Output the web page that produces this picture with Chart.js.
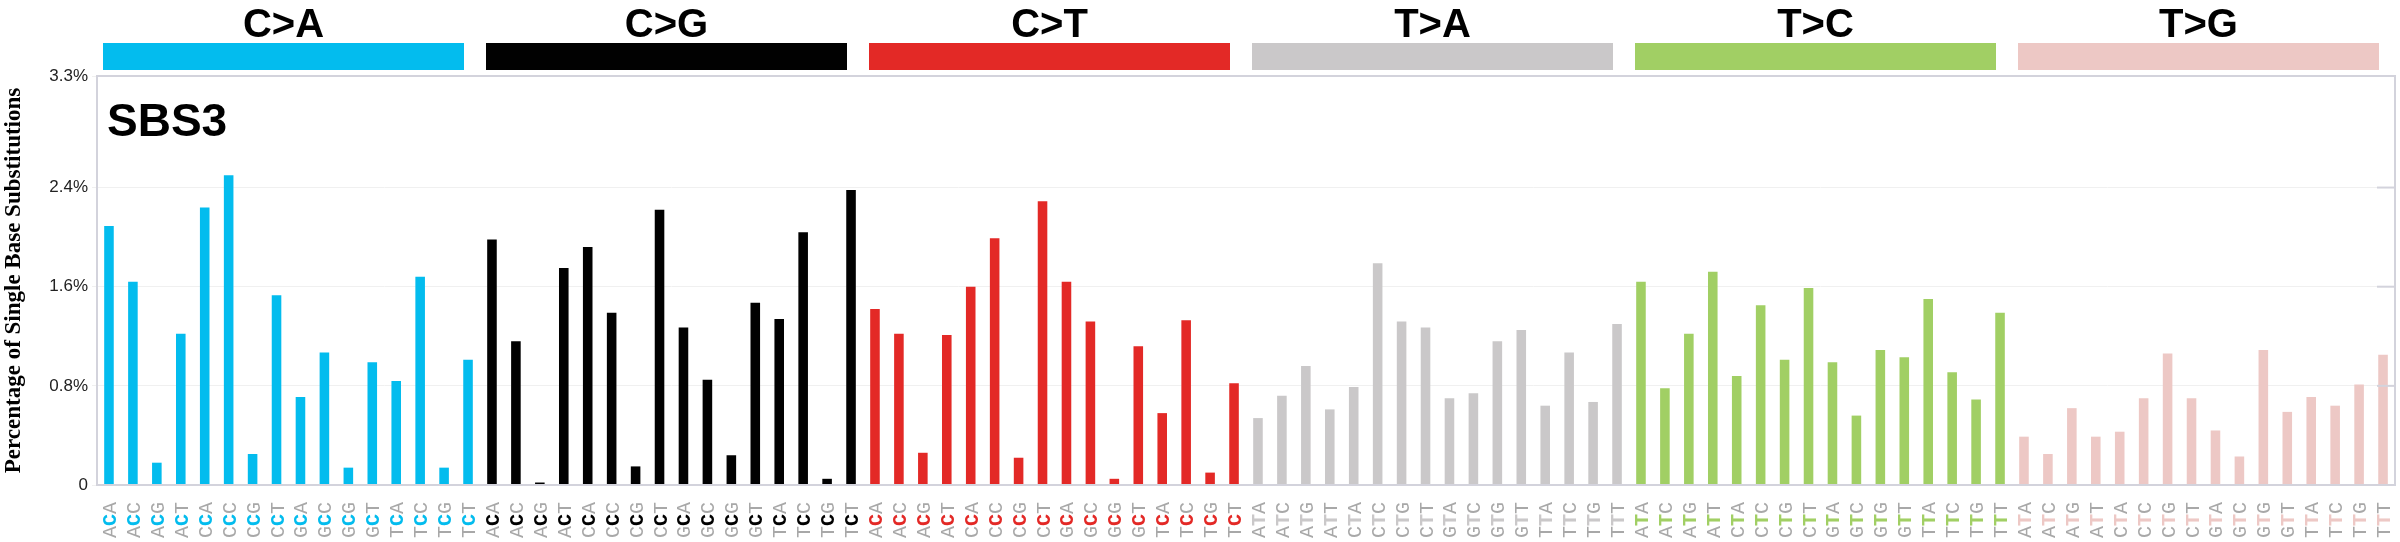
<!DOCTYPE html>
<html>
<head>
<meta charset="utf-8">
<script src="https://cdn.jsdelivr.net/npm/chart.js@4.4.1/dist/chart.umd.min.js"></script>
<style>
  html, body { margin: 0; padding: 0; background: #fff; }
  #wrap { width: 2400px; height: 542px; }
</style>
</head>
<body>
<div id="wrap"><canvas id="sbs"></canvas></div>
<script>
// mutation types and their colours
const groups = ["C>A", "C>G", "C>T", "T>A", "T>C", "T>G"];
const groupColors = ["#03bcee", "#010101", "#e32926", "#cac8c9", "#a1cf64", "#edc8c5"];

// trinucleotide contexts (middle base = mutated base)
const contextsC = ["ACA","ACC","ACG","ACT","CCA","CCC","CCG","CCT","GCA","GCC","GCG","GCT","TCA","TCC","TCG","TCT"];
const contextsT = ["ATA","ATC","ATG","ATT","CTA","CTC","CTG","CTT","GTA","GTC","GTG","GTT","TTA","TTC","TTG","TTT"];

// percentages
const valCA = [2.09,1.64,0.18,1.22,2.24,2.50,0.25,1.53,0.71,1.07,0.14,0.99,0.84,1.68,0.14,1.01];
const valCG = [1.98,1.16,0.02,1.75,1.92,1.39,0.15,2.22,1.27,0.85,0.24,1.47,1.34,2.04,0.05,2.38];
const valCT = [1.42,1.22,0.26,1.21,1.60,1.99,0.22,2.29,1.64,1.32,0.05,1.12,0.58,1.33,0.10,0.82];
const valTA = [0.54,0.72,0.96,0.61,0.79,1.79,1.32,1.27,0.70,0.74,1.16,1.25,0.64,1.07,0.67,1.30];
const valTC = [1.64,0.78,1.22,1.72,0.88,1.45,1.01,1.59,0.99,0.56,1.09,1.03,1.50,0.91,0.69,1.39];
const valTG = [0.39,0.25,0.62,0.39,0.43,0.70,1.06,0.70,0.44,0.23,1.09,0.59,0.71,0.64,0.81,1.05];

const yTicks = [0, 0.8, 1.6, 2.4, 3.3];
const signatureName = "SBS3";

const allValues = [valCA, valCG, valCT, valTA, valTC, valTG].flat();
const labels = [];
const barColors = [];
groups.forEach((g, gi) => {
  const ctxs = gi < 3 ? contextsC : contextsT;
  ctxs.forEach((c) => {
    labels.push(c);
    barColors.push(groupColors[gi]);
  });
});

// draws header bars, group names, context labels, box and signature name
const decorPlugin = {
  id: "decor",
  afterDraw(chart) {
    const c = chart.ctx;
    const x = chart.scales.x;
    const area = chart.chartArea;
    const step = (area.right - area.left) / labels.length;

    c.save();
    // plot frame
    c.strokeStyle = "#d3d3dc";
    c.lineWidth = 2;
    c.strokeRect(area.left, area.top, area.right - area.left, area.bottom - area.top);

    // small right-side tick marks
    [0.8, 1.6, 2.4].forEach((v) => {
      const py = chart.scales.y.getPixelForValue(v);
      c.beginPath();
      c.moveTo(area.right - 18, py);
      c.lineTo(area.right, py);
      c.stroke();
    });

    // group header bars and titles
    groups.forEach((g, gi) => {
      const x0 = area.left + gi * 16 * step + 6;
      const x1 = area.left + (gi + 1) * 16 * step - 16;
      c.fillStyle = groupColors[gi];
      c.fillRect(x0, 43, x1 - x0, 27);
      c.fillStyle = "#000";
      c.font = "bold 40px 'Liberation Sans Narrow', 'Liberation Sans', Arial";
      c.textAlign = "center";
      c.textBaseline = "alphabetic";
      c.fillText(g, (x0 + x1) / 2, 37);
    });

    // context labels, rotated, middle base coloured
    labels.forEach((lab, i) => {
      const px = x.getPixelForValue(i);
      const col = barColors[i];
      c.save();
      c.translate(px + 7, 538);
      c.rotate(-Math.PI / 2);
      c.textBaseline = "alphabetic";
      c.textAlign = "left";
      let off = 0;
      for (let k = 0; k < 3; k++) {
        c.font = (k === 1 ? "bold " : "") + "20px 'Liberation Mono', 'DejaVu Sans Mono', monospace";
        c.fillStyle = k === 1 ? col : "#a8a8a8";
        c.fillText(lab[k], off, 0);
        off += c.measureText(lab[k]).width;
      }
      c.restore();
    });

    // signature name
    c.fillStyle = "#000";
    c.font = "bold 46px 'Liberation Sans Narrow', 'Liberation Sans', Arial";
    c.textAlign = "left";
    c.fillText(signatureName, area.left + 10, area.top + 60);
    c.restore();
  },
};

new Chart(document.getElementById("sbs").getContext("2d"), {
  type: "bar",
  data: {
    labels,
    datasets: [{
      data: allValues,
      backgroundColor: barColors,
      borderWidth: 0,
      barPercentage: 0.4,
      categoryPercentage: 1.0,
    }],
  },
  options: {
    responsive: true,
    maintainAspectRatio: false,
    animation: false,
    layout: { padding: { top: 76, bottom: 49, left: 0, right: 5 } },
    plugins: {
      legend: { display: false },
      tooltip: { enabled: false },
    },
    scales: {
      x: {
        ticks: { display: false },
        grid: { display: false },
        border: { display: false },
      },
      y: {
        min: 0,
        max: 3.3,
        afterBuildTicks: (axis) => { axis.ticks = yTicks.map((v) => ({ value: v })); },
        afterFit: (axis) => { axis.width = 97; },
        ticks: {
          color: "#222",
          font: { family: "'Liberation Sans Narrow', 'Liberation Sans', Arial", size: 17 },
          padding: 4,
          callback: (v) => (v === 0 ? "0" : v.toFixed(1) + "%"),
        },
        grid: { color: "#f0f0f0", drawTicks: true, tickLength: 5 },
        border: { display: false },
        title: {
          display: true,
          text: "Percentage of Single Base Substitutions",
          color: "#000",
          font: { family: "'Liberation Serif', 'Times New Roman', serif", size: 23, weight: "bold" },
          padding: { top: 0, bottom: 6 },
        },
      },
    },
  },
  plugins: [decorPlugin],
});
</script>
</body>
</html>
